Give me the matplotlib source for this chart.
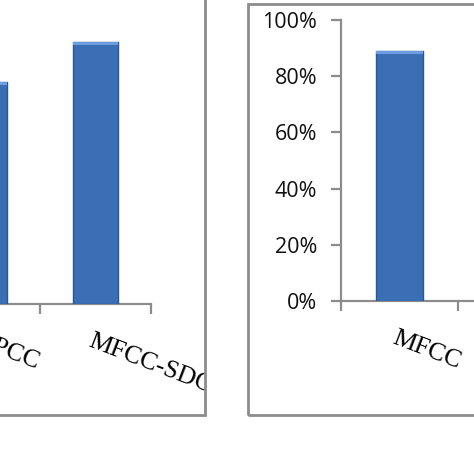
import numpy as np
import matplotlib
matplotlib.use('agg')
import matplotlib.pyplot as plt
from matplotlib.patches import Rectangle
from matplotlib.transforms import Bbox, TransformedBbox

# data (hidden bars are guesses)
categories = ['MFCC', 'LPCC', 'MFCC-SDC']
left_vals  = [0.85, 0.787, 0.929]
right_vals = [0.89, 0.80, 0.92]
yticks     = [0.0, 0.2, 0.4, 0.6, 0.8, 1.0]
ytick_lbls = ['0%', '20%', '40%', '60%', '80%', '100%']

W = H = 474
bar_color = '#3a6fb5'
edge_color = '#2c5690'
axis_grey = '#8c8c8c'

fig = plt.figure(figsize=(W/100, H/100), dpi=100)
fig.patch.set_facecolor('white')

def px_axes(x0, x1, ytop, ybot):
    """ axes from pixel coords (y measured from top) """
    return fig.add_axes([x0/W, 1 - ybot/H, (x1 - x0)/W, (ybot - ytop)/H])

def draw_panel(ax, vals, show_yticks):
    n = len(vals)
    x = np.arange(n)
    ax.bar(x, vals, width=0.40, color=bar_color, edgecolor=edge_color, linewidth=1.0, zorder=3)
    # light bevel on top of each bar
    ax.bar(x, [0.012]*n, bottom=np.array(vals) - 0.012, width=0.40,
           color='#6d9de0', linewidth=0, zorder=4)
    ax.set_xlim(-0.5, n - 0.5)
    ax.set_ylim(0, 1.0)
    for s in ['top', 'right']:
        ax.spines[s].set_visible(False)
    for s in ['left', 'bottom']:
        ax.spines[s].set_color(axis_grey)
        ax.spines[s].set_linewidth(1.6)
    ax.set_xticks(np.arange(n + 1) - 0.5)
    ax.set_xticklabels([])
    ax.tick_params(axis='x', length=7, width=1.6, color=axis_grey, direction='out')
    ax.set_yticks(yticks)
    ax.tick_params(axis='y', length=7, width=1.6, color=axis_grey, pad=10)
    if show_yticks:
        ax.set_yticklabels(ytick_lbls, fontsize=15.5, fontfamily='Open Sans', color='#111111')
    else:
        ax.set_yticklabels([])
    for i, c in enumerate(categories):
        ax.text(i - 0.02, -0.093, c, rotation=-21, ha='left', va='top',
                rotation_mode='anchor', fontsize=18.5, fontfamily='Liberation Serif',
                clip_on=False)

# left panel (mostly off the canvas)
axL = px_axes(-182, 151, 22, 304)
draw_panel(axL, left_vals, False)

# right panel
axR = px_axes(341, 692, 20, 301)
draw_panel(axR, right_vals, True)

# outer frames of the two figure panels
frameL = Rectangle((-40/W, 1 - 415/H), 245/W, (415 + 20)/H, transform=fig.transFigure,
                   fill=False, edgecolor=axis_grey, linewidth=2.0)
frameR = Rectangle((248/W, 1 - 415/H), 300/W, (415 - 4)/H, transform=fig.transFigure,
                   fill=False, edgecolor=axis_grey, linewidth=2.0)
fig.patches.extend([frameL, frameR])

# clip left panel labels at its frame edge
clip_box = TransformedBbox(Bbox([[0, 0], [205/W, 1]]), fig.transFigure)
for t in axL.texts:
    t.set_clip_on(True)
    t.set_clip_box(clip_box)

fig.savefig('out.png', dpi=100)
